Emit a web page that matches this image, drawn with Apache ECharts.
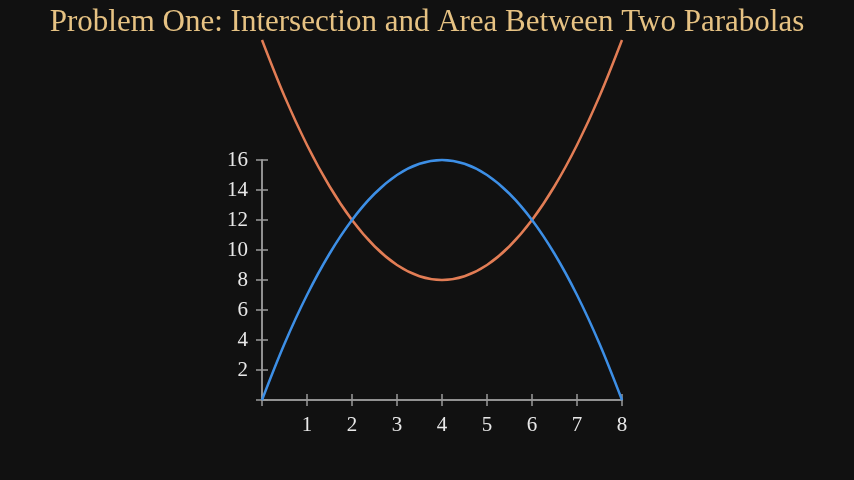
<!DOCTYPE html>
<html><head><meta charset="utf-8">
<script src="https://cdn.jsdelivr.net/npm/echarts@6/dist/echarts.min.js"></script>
<style>html,body{margin:0;padding:0;background:#111111;}#c{width:854px;height:480px;}</style>
</head><body><div id="c"></div>
<script>
const titleText = "Problem One: Intersection and Area Between Two Parabolas";
const xValues = [0,0.5,1,1.5,2,2.5,3,3.5,4,4.5,5,5.5,6,6.5,7,7.5,8];
const blueValues = [0,3.75,7,9.75,12,13.75,15,15.75,16,15.75,15,13.75,12,9.75,7,3.75,0];
const orangeValues = [24,20.25,17,14.25,12,10.25,9,8.25,8,8.25,9,10.25,12,14.25,17,20.25,24];
const xTicks = [1,2,3,4,5,6,7,8];
const yTicks = [2,4,6,8,10,12,14,16];

const chart = echarts.init(document.getElementById('c'));
const labelStyle = {color:'#e8e8e8', fontFamily:'Liberation Serif', fontSize:21};
const lineStyle = {color:'#9a9a9a', width:1.5};
function mkX(inside, showLabel){
  return {type:'value', min:0, max:8, interval:1, position:'bottom',
    axisLine:{show:true, lineStyle}, splitLine:{show:false},
    axisTick:{show:true, inside, length:6, lineStyle},
    axisLabel:{show:showLabel, margin:15, ...labelStyle,
      formatter:v=> xTicks.includes(v)? String(v) : ''}};
}
function mkY(inside, showLabel){
  return {type:'value', min:0, max:16, interval:2, position:'left',
    axisLine:{show:true, lineStyle}, splitLine:{show:false},
    axisTick:{show:true, inside, length:6, lineStyle},
    axisLabel:{show:showLabel, margin:14, padding:[3,0,0,0], ...labelStyle,
      formatter:v=> yTicks.includes(v)? String(v) : ''}};
}
chart.setOption({
  backgroundColor:'#111111',
  animation:false,
  title:{text:titleText, left:'center', top:2,
    textStyle:{color:'#e6c283', fontFamily:'Liberation Serif', fontWeight:'normal', fontSize:31}},
  grid:{left:262, right:232, top:160, bottom:80},
  xAxis:[mkX(false,true), mkX(true,false)],
  yAxis:[mkY(false,true), mkY(true,false)],
  series:[
    {type:'line', data:xValues.map((x,i)=>[x,orangeValues[i]]), smooth:0.35, showSymbol:false, clip:false,
      lineStyle:{color:'#e27d55', width:2.5}},
    {type:'line', data:xValues.map((x,i)=>[x,blueValues[i]]), smooth:0.35, showSymbol:false, clip:false,
      lineStyle:{color:'#3d8fe6', width:2.5}}
  ]
});
</script></body></html>
